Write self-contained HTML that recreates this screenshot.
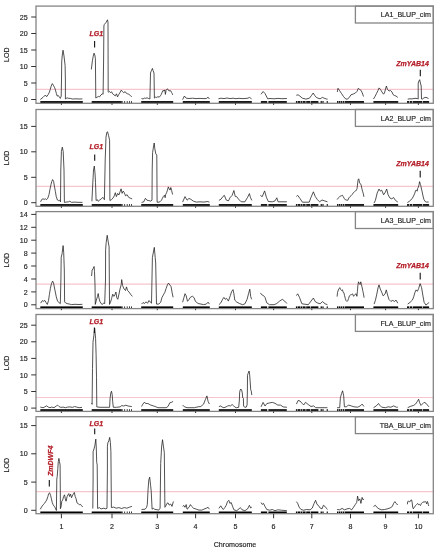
<!DOCTYPE html>
<html><head><meta charset="utf-8"><title>QTL LOD profiles</title>
<style>html,body{margin:0;padding:0;background:#fff;}svg{display:block;}</style>
</head><body>
<svg width="438" height="550" viewBox="0 0 438 550">
<rect width="438" height="550" fill="#fff"/>
<line x1="36.0" y1="89.4" x2="433.3" y2="89.4" stroke="#f6c6ce" stroke-width="1.2"/>
<polyline points="40.3,99.5 43.1,97.3 45.4,95.0 46.6,96.7 48.3,94.4 49.4,92.1 50.3,89.3 51.1,86.4 52.3,83.6 53.4,85.3 54.6,87.6 55.4,89.8 56.3,93.3 57.2,96.1 58.3,95.5 59.5,97.3 60.3,98.4 61.2,96.1 61.5,80.0 61.7,62.0 62.2,56.0 63.0,50.2 64.0,56.0 65.1,65.5 65.4,80.0 65.4,99.0 67.1,97.8 68.8,98.4 70.5,98.4 72.2,99.0 76.0,98.8 79.0,99.0 82.4,98.9" fill="none" stroke="#1a1a1a" stroke-width="0.75" stroke-linejoin="round"/>
<polyline points="91.3,69.5 92.4,60.8 93.2,56.4 94.0,53.2 94.8,55.0 95.4,58.6 95.8,98.0 96.8,97.4 98.4,96.4 99.5,96.9 101.0,94.8 102.4,93.8 103.1,94.3 103.6,60.0 103.9,25.9 104.4,24.3 106.0,22.6 107.5,19.8 108.0,22.5 108.1,60.0 108.2,91.7 108.4,92.2 109.4,91.4 110.5,92.7 111.5,91.7 112.6,93.8 114.0,94.8 115.2,95.9 116.5,93.8 117.5,96.9 118.6,94.8 119.9,92.7 121.3,90.1 122.6,91.7 123.6,92.7 125.2,91.7 126.2,93.2 127.6,93.8 128.9,94.3 130.4,95.6 131.8,96.7" fill="none" stroke="#1a1a1a" stroke-width="0.75" stroke-linejoin="round"/>
<polyline points="141.5,98.5 143.0,99.0 144.4,98.1 145.8,98.3 147.1,97.8 148.5,98.5 149.9,99.0 150.5,73.0 151.2,71.1 151.7,70.2 152.4,68.4 153.1,70.7 154.0,73.0 154.4,98.1 155.4,97.2 156.7,97.4 157.9,96.7 159.2,97.2 160.4,95.8 161.3,94.4 162.2,92.1 163.1,90.3 164.0,91.2 164.8,89.9 165.4,94.4 166.1,90.3 167.2,88.9 168.1,89.4 169.1,91.2 170.0,90.3 170.9,91.0 171.6,92.6 172.2,93.5 172.7,94.9" fill="none" stroke="#1a1a1a" stroke-width="0.75" stroke-linejoin="round"/>
<polyline points="182.6,99.6 184.4,96.0 186.2,98.2 189.0,98.5 192.6,98.2 196.0,98.6 200.0,98.4 203.0,98.6 206.3,98.5 208.1,97.2 209.4,99.0" fill="none" stroke="#1a1a1a" stroke-width="0.75" stroke-linejoin="round"/>
<polyline points="218.4,98.8 221.0,98.2 224.0,98.6 227.0,98.0 230.0,98.6 233.0,98.2 236.0,98.7 239.0,98.3 242.0,98.6 245.0,98.5 248.0,98.2 249.4,97.4 251.5,98.8" fill="none" stroke="#1a1a1a" stroke-width="0.75" stroke-linejoin="round"/>
<polyline points="261.0,94.3 263.1,91.5 265.0,93.5 267.7,98.8 270.0,98.5 274.0,98.8 278.0,98.4 282.0,98.7 286.9,98.5" fill="none" stroke="#1a1a1a" stroke-width="0.75" stroke-linejoin="round"/>
<polyline points="296.3,95.3 298.1,94.8 299.8,96.0 302.4,98.2 305.9,99.1 309.4,98.2 311.4,95.6 313.2,93.0 314.6,95.3 316.3,97.4 318.0,98.2 320.1,98.8 322.4,97.4 324.1,98.2 326.7,99.1 327.6,99.1" fill="none" stroke="#1a1a1a" stroke-width="0.75" stroke-linejoin="round"/>
<polyline points="337.3,92.0 338.0,88.3 339.5,90.5 341.5,93.5 343.5,96.5 345.8,99.1 347.6,99.1 349.5,97.0 351.0,94.8 353.6,93.9 355.4,93.0 357.1,91.3 358.3,88.3 359.7,89.5 361.1,90.4 362.3,93.0 363.5,96.5" fill="none" stroke="#1a1a1a" stroke-width="0.75" stroke-linejoin="round"/>
<polyline points="373.5,99.0 375.0,96.5 376.5,93.5 378.0,90.5 379.1,87.9 380.5,89.5 382.0,92.0 383.5,94.2 384.5,93.0 385.5,89.0 386.4,86.0 387.5,89.5 389.0,91.0 390.5,90.5 392.0,92.0 393.0,94.5 394.5,95.5 396.0,96.0 397.8,97.5" fill="none" stroke="#1a1a1a" stroke-width="0.75" stroke-linejoin="round"/>
<polyline points="407.7,99.1 410.0,98.8 412.0,98.9 415.0,98.3 417.5,98.6 418.2,99.1 418.2,83.0 419.0,80.9 419.7,79.7 420.4,83.0 421.2,86.0 421.5,99.0 422.5,99.0 424.0,97.8 426.0,97.3 428.5,98.5" fill="none" stroke="#1a1a1a" stroke-width="0.75" stroke-linejoin="round"/>
<rect x="40.3" y="101.1" width="42.5" height="2.1" fill="#000"/>
<rect x="91.7" y="101.1" width="30.1" height="2.1" fill="#000"/>
<rect x="122.4" y="101.1" width="0.6" height="2.1" fill="#000"/>
<rect x="124.3" y="101.1" width="0.8" height="2.1" fill="#000"/>
<rect x="126.8" y="101.1" width="0.8" height="2.1" fill="#000"/>
<rect x="129.0" y="101.1" width="0.8" height="2.1" fill="#000"/>
<rect x="131.1" y="101.1" width="0.8" height="2.1" fill="#000"/>
<rect x="141.2" y="101.1" width="32.0" height="2.1" fill="#000"/>
<rect x="182.8" y="101.1" width="27.0" height="2.1" fill="#000"/>
<rect x="218.8" y="101.1" width="33.0" height="2.1" fill="#000"/>
<rect x="260.9" y="101.1" width="6.3" height="2.1" fill="#000"/>
<rect x="268.4" y="101.1" width="18.4" height="2.1" fill="#000"/>
<rect x="295.9" y="101.1" width="1.6" height="2.1" fill="#000"/>
<rect x="298.0" y="101.1" width="2.0" height="2.1" fill="#000"/>
<rect x="300.5" y="101.1" width="2.0" height="2.1" fill="#000"/>
<rect x="303.0" y="101.1" width="2.6" height="2.1" fill="#000"/>
<rect x="306.2" y="101.1" width="4.2" height="2.1" fill="#000"/>
<rect x="311.0" y="101.1" width="7.4" height="2.1" fill="#000"/>
<rect x="320.6" y="101.1" width="1.3" height="2.1" fill="#000"/>
<rect x="322.4" y="101.1" width="1.2" height="2.1" fill="#000"/>
<rect x="326.7" y="101.1" width="1.1" height="2.1" fill="#000"/>
<rect x="337.0" y="101.1" width="1.5" height="2.1" fill="#000"/>
<rect x="339.0" y="101.1" width="1.5" height="2.1" fill="#000"/>
<rect x="341.0" y="101.1" width="1.3" height="2.1" fill="#000"/>
<rect x="342.8" y="101.1" width="1.4" height="2.1" fill="#000"/>
<rect x="344.7" y="101.1" width="19.3" height="2.1" fill="#000"/>
<rect x="373.4" y="101.1" width="24.8" height="2.1" fill="#000"/>
<rect x="407.0" y="101.1" width="2.1" height="2.1" fill="#000"/>
<rect x="409.7" y="101.1" width="2.3" height="2.1" fill="#000"/>
<rect x="412.6" y="101.1" width="9.7" height="2.1" fill="#000"/>
<rect x="422.9" y="101.1" width="6.2" height="2.1" fill="#000"/>
<rect x="36.0" y="6.1" width="397.3" height="97.2" fill="none" stroke="#858585" stroke-width="1.3"/>
<rect x="355.4" y="6.1" width="77.9" height="16.9" fill="none" stroke="#858585" stroke-width="1.3"/>
<text x="430.9" y="17.3" text-anchor="end" font-family="'Liberation Sans', Arial, sans-serif" font-size="7.1" fill="#222" stroke="#222" stroke-width="0.15">LA1_BLUP_cim</text>
<line x1="31.2" y1="99.5" x2="36.0" y2="99.5" stroke="#333" stroke-width="1"/>
<text x="27.6" y="102.1" text-anchor="end" font-family="'Liberation Sans', Arial, sans-serif" font-size="7.1" fill="#222" stroke="#222" stroke-width="0.15">0</text>
<line x1="31.2" y1="83.0" x2="36.0" y2="83.0" stroke="#333" stroke-width="1"/>
<text x="27.6" y="85.6" text-anchor="end" font-family="'Liberation Sans', Arial, sans-serif" font-size="7.1" fill="#222" stroke="#222" stroke-width="0.15">5</text>
<line x1="31.2" y1="66.5" x2="36.0" y2="66.5" stroke="#333" stroke-width="1"/>
<text x="27.6" y="69.1" text-anchor="end" font-family="'Liberation Sans', Arial, sans-serif" font-size="7.1" fill="#222" stroke="#222" stroke-width="0.15">10</text>
<line x1="31.2" y1="50.0" x2="36.0" y2="50.0" stroke="#333" stroke-width="1"/>
<text x="27.6" y="52.6" text-anchor="end" font-family="'Liberation Sans', Arial, sans-serif" font-size="7.1" fill="#222" stroke="#222" stroke-width="0.15">15</text>
<line x1="31.2" y1="33.5" x2="36.0" y2="33.5" stroke="#333" stroke-width="1"/>
<text x="27.6" y="36.1" text-anchor="end" font-family="'Liberation Sans', Arial, sans-serif" font-size="7.1" fill="#222" stroke="#222" stroke-width="0.15">20</text>
<line x1="31.2" y1="17.0" x2="36.0" y2="17.0" stroke="#333" stroke-width="1"/>
<text x="27.6" y="19.6" text-anchor="end" font-family="'Liberation Sans', Arial, sans-serif" font-size="7.1" fill="#222" stroke="#222" stroke-width="0.15">25</text>
<text transform="translate(9.0,54.7) rotate(-90)" text-anchor="middle" font-family="'Liberation Sans', Arial, sans-serif" font-size="7.1" fill="#222" stroke="#222" stroke-width="0.15">LOD</text>
<line x1="61.4" y1="103.3" x2="61.4" y2="104.89999999999999" stroke="#333" stroke-width="1"/>
<line x1="112.0" y1="103.3" x2="112.0" y2="104.89999999999999" stroke="#333" stroke-width="1"/>
<line x1="157.3" y1="103.3" x2="157.3" y2="104.89999999999999" stroke="#333" stroke-width="1"/>
<line x1="195.6" y1="103.3" x2="195.6" y2="104.89999999999999" stroke="#333" stroke-width="1"/>
<line x1="235.5" y1="103.3" x2="235.5" y2="104.89999999999999" stroke="#333" stroke-width="1"/>
<line x1="273.6" y1="103.3" x2="273.6" y2="104.89999999999999" stroke="#333" stroke-width="1"/>
<line x1="311.8" y1="103.3" x2="311.8" y2="104.89999999999999" stroke="#333" stroke-width="1"/>
<line x1="350.5" y1="103.3" x2="350.5" y2="104.89999999999999" stroke="#333" stroke-width="1"/>
<line x1="385.6" y1="103.3" x2="385.6" y2="104.89999999999999" stroke="#333" stroke-width="1"/>
<line x1="418.4" y1="103.3" x2="418.4" y2="104.89999999999999" stroke="#333" stroke-width="1"/>
<text x="89.6" y="36.3" font-family="'Liberation Sans', Arial, sans-serif" font-size="7" font-weight="bold" font-style="italic" fill="#b41e28" stroke="#b41e28" stroke-width="0.25">LG1</text>
<line x1="94.6" y1="41.0" x2="94.6" y2="47.4" stroke="#111" stroke-width="1.1"/>
<text x="396.3" y="65.6" font-family="'Liberation Sans', Arial, sans-serif" font-size="7" font-weight="bold" font-style="italic" fill="#b41e28" stroke="#b41e28" stroke-width="0.25">ZmYAB14</text>
<line x1="420.3" y1="69.7" x2="420.3" y2="76.3" stroke="#111" stroke-width="1.1"/>
<line x1="36.0" y1="186.4" x2="433.3" y2="186.4" stroke="#f6c6ce" stroke-width="1.2"/>
<polyline points="40.6,201.8 41.8,199.4 43.0,198.8 44.2,199.4 45.4,198.8 46.6,199.6 47.8,198.2 49.0,194.6 50.0,189.2 51.0,184.4 51.8,181.4 52.6,179.6 53.6,181.4 54.4,186.2 55.4,191.6 56.2,196.4 57.4,200.0 58.6,200.6 59.6,200.2 60.5,201.8 60.8,170.0 61.4,151.4 62.3,147.2 63.2,151.4 64.0,170.0 64.4,202.4 66.2,202.1 68.6,201.8 69.8,201.2 71.6,202.4 74.0,202.1 78.0,202.3 82.4,202.4" fill="none" stroke="#1a1a1a" stroke-width="0.75" stroke-linejoin="round"/>
<polyline points="91.9,201.3 92.7,185.0 93.5,170.0 94.3,166.1 95.0,173.1 95.5,182.5 96.1,200.5 97.4,199.7 98.2,201.3 99.7,200.0 101.3,198.9 102.8,197.3 103.6,198.4 104.4,199.7 105.2,160.0 106.0,137.2 106.8,132.5 107.5,131.7 108.6,135.6 109.6,140.3 109.9,200.5 111.4,199.7 113.0,198.1 114.3,195.8 115.3,192.7 116.4,196.6 117.7,193.4 118.9,195.0 120.0,191.9 121.1,188.8 122.1,193.4 123.2,191.1 124.3,192.7 125.5,195.8 127.1,194.7 128.6,197.3 130.2,198.1 132.1,198.9" fill="none" stroke="#1a1a1a" stroke-width="0.75" stroke-linejoin="round"/>
<polyline points="141.6,202.4 143.7,201.9 145.4,198.3 146.9,200.2 148.8,200.6 150.7,201.1 152.0,200.2 152.2,170.0 152.6,152.5 153.3,148.1 154.2,143.0 154.8,148.7 155.8,153.8 156.8,155.1 157.1,202.2 159.0,202.2 160.3,201.5 161.5,200.2 162.4,198.3 163.4,196.4 164.5,195.2 165.1,197.7 165.7,194.5 166.6,192.6 167.5,190.1 168.3,186.9 169.2,188.8 170.1,190.1 170.8,187.5 171.7,190.7 172.6,194.5" fill="none" stroke="#1a1a1a" stroke-width="0.75" stroke-linejoin="round"/>
<polyline points="182.6,202.1 185.0,196.6 187.1,200.2 189.0,198.4 190.8,199.3 193.5,201.2 196.3,202.1 200.0,201.8 204.0,202.1 207.2,201.5 209.4,202.1" fill="none" stroke="#1a1a1a" stroke-width="0.75" stroke-linejoin="round"/>
<polyline points="218.9,200.4 221.1,199.1 223.0,196.4 224.4,195.4 226.2,200.0 228.4,200.9 230.3,197.3 232.1,195.4 233.9,190.5 235.2,196.4 236.7,196.7 238.5,199.1 241.2,201.8 244.9,201.8 247.6,197.3 249.4,193.6 250.4,197.3 251.8,200.4" fill="none" stroke="#1a1a1a" stroke-width="0.75" stroke-linejoin="round"/>
<polyline points="260.4,195.4 262.2,196.7 264.6,190.9 266.4,197.3 268.3,201.5 272.3,201.8 275.0,200.9 276.8,197.8 278.1,201.8 282.0,201.8 286.9,201.8" fill="none" stroke="#1a1a1a" stroke-width="0.75" stroke-linejoin="round"/>
<polyline points="296.4,196.4 297.7,195.4 300.0,198.5 302.4,202.2 309.2,202.2 311.0,197.3 313.4,191.8 315.2,196.4 317.4,199.6 319.6,201.8 322.0,200.0 324.7,200.9 327.4,201.8" fill="none" stroke="#1a1a1a" stroke-width="0.75" stroke-linejoin="round"/>
<polyline points="337.1,199.6 338.7,197.6 340.2,196.1 341.4,195.7 342.4,195.3 343.3,196.8 344.5,198.8 345.6,200.0 346.8,200.1 347.8,200.3 348.8,198.0 349.9,196.7 351.1,195.7 352.2,194.5 353.3,192.8 354.3,191.8 355.6,191.0 356.5,189.9 357.1,188.3 357.7,182.9 358.1,179.8 358.7,178.8 359.2,180.5 359.6,182.9 360.6,184.0 361.2,185.2 361.8,188.3 362.6,191.4 363.3,193.7 363.9,196.8" fill="none" stroke="#1a1a1a" stroke-width="0.75" stroke-linejoin="round"/>
<polyline points="374.1,203.0 375.4,200.3 377.2,193.0 379.0,189.0 380.3,191.1 381.7,190.2 383.6,194.8 385.4,192.1 386.7,189.0 388.1,194.8 390.0,198.1 391.8,198.8 393.6,197.5 395.4,200.3 397.8,202.1" fill="none" stroke="#1a1a1a" stroke-width="0.75" stroke-linejoin="round"/>
<polyline points="407.4,202.5 409.1,201.5 410.8,200.1 412.2,198.4 413.6,196.0 414.8,193.2 415.6,190.5 416.5,190.2 417.2,191.2 417.7,188.4 418.4,187.1 419.1,184.3 419.6,181.6 420.3,184.3 420.8,185.7 421.5,189.1 422.2,191.9 423.0,196.0 423.9,199.4 425.2,201.5 426.6,202.1 428.7,202.0" fill="none" stroke="#1a1a1a" stroke-width="0.75" stroke-linejoin="round"/>
<rect x="40.3" y="204.1" width="42.5" height="2.1" fill="#000"/>
<rect x="91.7" y="204.1" width="30.1" height="2.1" fill="#000"/>
<rect x="122.4" y="204.1" width="0.6" height="2.1" fill="#000"/>
<rect x="124.3" y="204.1" width="0.8" height="2.1" fill="#000"/>
<rect x="126.8" y="204.1" width="0.8" height="2.1" fill="#000"/>
<rect x="129.0" y="204.1" width="0.8" height="2.1" fill="#000"/>
<rect x="131.1" y="204.1" width="0.8" height="2.1" fill="#000"/>
<rect x="141.2" y="204.1" width="32.0" height="2.1" fill="#000"/>
<rect x="182.8" y="204.1" width="27.0" height="2.1" fill="#000"/>
<rect x="218.8" y="204.1" width="33.0" height="2.1" fill="#000"/>
<rect x="260.9" y="204.1" width="6.3" height="2.1" fill="#000"/>
<rect x="268.4" y="204.1" width="18.4" height="2.1" fill="#000"/>
<rect x="295.9" y="204.1" width="1.6" height="2.1" fill="#000"/>
<rect x="298.0" y="204.1" width="2.0" height="2.1" fill="#000"/>
<rect x="300.5" y="204.1" width="2.0" height="2.1" fill="#000"/>
<rect x="303.0" y="204.1" width="2.6" height="2.1" fill="#000"/>
<rect x="306.2" y="204.1" width="4.2" height="2.1" fill="#000"/>
<rect x="311.0" y="204.1" width="7.4" height="2.1" fill="#000"/>
<rect x="320.6" y="204.1" width="1.3" height="2.1" fill="#000"/>
<rect x="322.4" y="204.1" width="1.2" height="2.1" fill="#000"/>
<rect x="326.7" y="204.1" width="1.1" height="2.1" fill="#000"/>
<rect x="337.0" y="204.1" width="1.5" height="2.1" fill="#000"/>
<rect x="339.0" y="204.1" width="1.5" height="2.1" fill="#000"/>
<rect x="341.0" y="204.1" width="1.3" height="2.1" fill="#000"/>
<rect x="342.8" y="204.1" width="1.4" height="2.1" fill="#000"/>
<rect x="344.7" y="204.1" width="19.3" height="2.1" fill="#000"/>
<rect x="373.4" y="204.1" width="24.8" height="2.1" fill="#000"/>
<rect x="407.0" y="204.1" width="2.1" height="2.1" fill="#000"/>
<rect x="409.7" y="204.1" width="2.3" height="2.1" fill="#000"/>
<rect x="412.6" y="204.1" width="9.7" height="2.1" fill="#000"/>
<rect x="422.9" y="204.1" width="6.2" height="2.1" fill="#000"/>
<rect x="36.0" y="109.5" width="397.3" height="96.8" fill="none" stroke="#858585" stroke-width="1.3"/>
<rect x="355.4" y="109.5" width="77.9" height="16.9" fill="none" stroke="#858585" stroke-width="1.3"/>
<text x="430.9" y="120.7" text-anchor="end" font-family="'Liberation Sans', Arial, sans-serif" font-size="7.1" fill="#222" stroke="#222" stroke-width="0.15">LA2_BLUP_cim</text>
<line x1="31.2" y1="202.7" x2="36.0" y2="202.7" stroke="#333" stroke-width="1"/>
<text x="27.6" y="205.3" text-anchor="end" font-family="'Liberation Sans', Arial, sans-serif" font-size="7.1" fill="#222" stroke="#222" stroke-width="0.15">0</text>
<line x1="31.2" y1="177.3" x2="36.0" y2="177.3" stroke="#333" stroke-width="1"/>
<text x="27.6" y="179.9" text-anchor="end" font-family="'Liberation Sans', Arial, sans-serif" font-size="7.1" fill="#222" stroke="#222" stroke-width="0.15">5</text>
<line x1="31.2" y1="151.8" x2="36.0" y2="151.8" stroke="#333" stroke-width="1"/>
<text x="27.6" y="154.4" text-anchor="end" font-family="'Liberation Sans', Arial, sans-serif" font-size="7.1" fill="#222" stroke="#222" stroke-width="0.15">10</text>
<line x1="31.2" y1="126.4" x2="36.0" y2="126.4" stroke="#333" stroke-width="1"/>
<text x="27.6" y="129.0" text-anchor="end" font-family="'Liberation Sans', Arial, sans-serif" font-size="7.1" fill="#222" stroke="#222" stroke-width="0.15">15</text>
<text transform="translate(9.0,157.9) rotate(-90)" text-anchor="middle" font-family="'Liberation Sans', Arial, sans-serif" font-size="7.1" fill="#222" stroke="#222" stroke-width="0.15">LOD</text>
<line x1="61.4" y1="206.3" x2="61.4" y2="207.9" stroke="#333" stroke-width="1"/>
<line x1="112.0" y1="206.3" x2="112.0" y2="207.9" stroke="#333" stroke-width="1"/>
<line x1="157.3" y1="206.3" x2="157.3" y2="207.9" stroke="#333" stroke-width="1"/>
<line x1="195.6" y1="206.3" x2="195.6" y2="207.9" stroke="#333" stroke-width="1"/>
<line x1="235.5" y1="206.3" x2="235.5" y2="207.9" stroke="#333" stroke-width="1"/>
<line x1="273.6" y1="206.3" x2="273.6" y2="207.9" stroke="#333" stroke-width="1"/>
<line x1="311.8" y1="206.3" x2="311.8" y2="207.9" stroke="#333" stroke-width="1"/>
<line x1="350.5" y1="206.3" x2="350.5" y2="207.9" stroke="#333" stroke-width="1"/>
<line x1="385.6" y1="206.3" x2="385.6" y2="207.9" stroke="#333" stroke-width="1"/>
<line x1="418.4" y1="206.3" x2="418.4" y2="207.9" stroke="#333" stroke-width="1"/>
<text x="89.6" y="148.9" font-family="'Liberation Sans', Arial, sans-serif" font-size="7" font-weight="bold" font-style="italic" fill="#b41e28" stroke="#b41e28" stroke-width="0.25">LG1</text>
<line x1="94.7" y1="154.4" x2="94.7" y2="160.7" stroke="#111" stroke-width="1.1"/>
<text x="396.3" y="166.2" font-family="'Liberation Sans', Arial, sans-serif" font-size="7" font-weight="bold" font-style="italic" fill="#b41e28" stroke="#b41e28" stroke-width="0.25">ZmYAB14</text>
<line x1="420.2" y1="170.7" x2="420.2" y2="177.4" stroke="#111" stroke-width="1.1"/>
<line x1="36.0" y1="284.1" x2="433.3" y2="284.1" stroke="#f6c6ce" stroke-width="1.2"/>
<polyline points="40.7,303.1 42.3,300.6 43.6,301.3 44.8,300.4 46.0,302.5 47.3,304.4 48.5,300.6 49.4,294.5 50.4,288.3 51.4,283.9 52.6,281.1 53.5,282.7 54.3,287.0 55.3,292.0 56.3,296.9 57.6,301.3 59.0,302.5 60.3,303.7 60.9,280.0 61.2,257.3 62.1,253.6 63.1,245.6 63.7,252.4 64.3,270.0 64.6,301.9 65.8,303.1 67.7,303.7 69.6,304.1 71.4,304.6 75.0,304.3 79.0,304.5 82.4,304.3" fill="none" stroke="#1a1a1a" stroke-width="0.75" stroke-linejoin="round"/>
<polyline points="91.6,276.0 92.1,270.2 93.1,268.7 94.1,266.5 94.5,271.6 95.0,285.0 95.3,304.4 96.4,300.0 97.5,296.4 98.2,293.5 98.9,297.8 99.9,301.5 101.1,303.6 102.5,304.4 103.7,302.9 104.7,303.6 105.5,280.0 105.6,249.8 106.2,242.5 107.2,235.3 108.1,241.1 109.1,246.9 109.5,304.4 110.5,302.2 111.6,298.5 112.7,294.2 113.9,296.4 114.9,294.9 115.9,292.0 116.8,297.8 117.8,299.3 118.8,294.9 120.0,289.1 121.2,284.7 121.7,279.6 122.6,285.5 124.1,289.1 125.5,290.5 126.5,286.9 127.6,290.5 129.0,292.0 130.5,294.2 132.4,296.4" fill="none" stroke="#1a1a1a" stroke-width="0.75" stroke-linejoin="round"/>
<polyline points="141.5,304.1 143.0,302.5 144.5,303.5 146.0,301.8 147.5,303.3 149.0,300.5 150.2,302.0 151.5,303.2 152.4,257.5 153.4,252.0 154.3,247.4 155.2,257.5 155.7,263.0 156.5,304.1 158.8,304.1 160.7,302.2 161.9,297.7 163.4,294.9 164.9,292.2 166.1,288.5 167.4,284.9 168.5,283.1 169.8,284.9 171.1,286.7 172.2,293.1 173.1,297.3" fill="none" stroke="#1a1a1a" stroke-width="0.75" stroke-linejoin="round"/>
<polyline points="182.6,302.2 183.9,297.7 185.0,293.7 186.2,295.8 187.5,301.3 189.0,299.5 190.4,297.3 192.3,296.2 194.1,297.7 195.4,301.3 198.1,303.5 203.6,304.6 206.3,304.1 208.1,302.2 209.4,304.1" fill="none" stroke="#1a1a1a" stroke-width="0.75" stroke-linejoin="round"/>
<polyline points="218.9,304.7 220.8,302.9 222.6,299.3 223.9,297.4 225.2,299.3 226.6,298.4 228.4,301.1 230.3,295.6 231.7,291.4 233.0,289.6 233.9,293.8 234.8,300.2 236.7,302.0 239.4,303.5 242.7,304.7 244.9,303.8 247.1,299.3 248.5,293.8 249.8,289.2 250.7,296.5 251.6,299.3" fill="none" stroke="#1a1a1a" stroke-width="0.75" stroke-linejoin="round"/>
<polyline points="260.4,292.9 261.7,294.7 263.5,295.6 265.0,297.4 266.8,302.9 269.5,304.7 274.1,304.7 276.8,303.5 279.6,301.1 282.3,299.3 284.7,301.1 286.9,303.5" fill="none" stroke="#1a1a1a" stroke-width="0.75" stroke-linejoin="round"/>
<polyline points="296.4,295.6 297.7,293.8 299.5,297.4 301.9,303.8 308.3,304.7 311.0,301.1 313.4,298.0 315.2,301.6 317.4,302.9 320.1,303.8 322.5,301.6 325.1,303.8 327.4,304.7" fill="none" stroke="#1a1a1a" stroke-width="0.75" stroke-linejoin="round"/>
<polyline points="337.1,296.6 337.5,292.7 338.3,290.0 339.0,288.8 339.8,287.6 340.6,289.6 341.4,290.4 342.4,289.8 343.2,292.3 343.9,292.7 344.5,295.4 345.3,298.5 346.0,300.5 347.0,301.5 347.8,300.5 348.6,298.5 349.4,295.8 350.3,295.0 351.5,294.6 352.6,293.9 353.6,296.3 354.3,295.4 355.4,294.2 356.1,293.7 356.9,296.3 357.4,291.5 357.9,285.3 358.5,281.8 359.2,283.4 360.0,284.5 360.8,281.8 361.3,284.2 362.0,286.9 362.7,290.4 363.3,293.1 364.1,297.7" fill="none" stroke="#1a1a1a" stroke-width="0.75" stroke-linejoin="round"/>
<polyline points="374.1,304.1 375.4,300.4 376.8,294.1 378.1,287.7 379.0,284.9 380.3,289.1 381.7,292.2 383.2,295.9 385.0,294.1 386.3,289.9 387.6,295.0 389.0,299.5 390.9,301.4 392.7,300.4 394.5,301.4 396.0,300.1 397.8,303.2" fill="none" stroke="#1a1a1a" stroke-width="0.75" stroke-linejoin="round"/>
<polyline points="407.7,304.1 410.1,302.3 412.4,300.1 413.7,296.8 415.0,292.2 416.1,289.9 417.4,291.3 418.6,288.6 420.1,283.6 421.6,287.7 422.8,295.0 424.1,302.3 425.9,305.0 427.4,304.1 428.9,302.3" fill="none" stroke="#1a1a1a" stroke-width="0.75" stroke-linejoin="round"/>
<rect x="40.3" y="306.4" width="42.5" height="2.1" fill="#000"/>
<rect x="91.7" y="306.4" width="30.1" height="2.1" fill="#000"/>
<rect x="122.4" y="306.4" width="0.6" height="2.1" fill="#000"/>
<rect x="124.3" y="306.4" width="0.8" height="2.1" fill="#000"/>
<rect x="126.8" y="306.4" width="0.8" height="2.1" fill="#000"/>
<rect x="129.0" y="306.4" width="0.8" height="2.1" fill="#000"/>
<rect x="131.1" y="306.4" width="0.8" height="2.1" fill="#000"/>
<rect x="141.2" y="306.4" width="32.0" height="2.1" fill="#000"/>
<rect x="182.8" y="306.4" width="27.0" height="2.1" fill="#000"/>
<rect x="218.8" y="306.4" width="33.0" height="2.1" fill="#000"/>
<rect x="260.9" y="306.4" width="6.3" height="2.1" fill="#000"/>
<rect x="268.4" y="306.4" width="18.4" height="2.1" fill="#000"/>
<rect x="295.9" y="306.4" width="1.6" height="2.1" fill="#000"/>
<rect x="298.0" y="306.4" width="2.0" height="2.1" fill="#000"/>
<rect x="300.5" y="306.4" width="2.0" height="2.1" fill="#000"/>
<rect x="303.0" y="306.4" width="2.6" height="2.1" fill="#000"/>
<rect x="306.2" y="306.4" width="4.2" height="2.1" fill="#000"/>
<rect x="311.0" y="306.4" width="7.4" height="2.1" fill="#000"/>
<rect x="320.6" y="306.4" width="1.3" height="2.1" fill="#000"/>
<rect x="322.4" y="306.4" width="1.2" height="2.1" fill="#000"/>
<rect x="326.7" y="306.4" width="1.1" height="2.1" fill="#000"/>
<rect x="337.0" y="306.4" width="1.5" height="2.1" fill="#000"/>
<rect x="339.0" y="306.4" width="1.5" height="2.1" fill="#000"/>
<rect x="341.0" y="306.4" width="1.3" height="2.1" fill="#000"/>
<rect x="342.8" y="306.4" width="1.4" height="2.1" fill="#000"/>
<rect x="344.7" y="306.4" width="19.3" height="2.1" fill="#000"/>
<rect x="373.4" y="306.4" width="24.8" height="2.1" fill="#000"/>
<rect x="407.0" y="306.4" width="2.1" height="2.1" fill="#000"/>
<rect x="409.7" y="306.4" width="2.3" height="2.1" fill="#000"/>
<rect x="412.6" y="306.4" width="9.7" height="2.1" fill="#000"/>
<rect x="422.9" y="306.4" width="6.2" height="2.1" fill="#000"/>
<rect x="36.0" y="211.6" width="397.3" height="97.0" fill="none" stroke="#858585" stroke-width="1.3"/>
<rect x="355.4" y="211.6" width="77.9" height="16.9" fill="none" stroke="#858585" stroke-width="1.3"/>
<text x="430.9" y="222.8" text-anchor="end" font-family="'Liberation Sans', Arial, sans-serif" font-size="7.1" fill="#222" stroke="#222" stroke-width="0.15">LA3_BLUP_cim</text>
<line x1="31.2" y1="304.8" x2="36.0" y2="304.8" stroke="#333" stroke-width="1"/>
<text x="27.6" y="307.4" text-anchor="end" font-family="'Liberation Sans', Arial, sans-serif" font-size="7.1" fill="#222" stroke="#222" stroke-width="0.15">0</text>
<line x1="31.2" y1="291.9" x2="36.0" y2="291.9" stroke="#333" stroke-width="1"/>
<text x="27.6" y="294.5" text-anchor="end" font-family="'Liberation Sans', Arial, sans-serif" font-size="7.1" fill="#222" stroke="#222" stroke-width="0.15">2</text>
<line x1="31.2" y1="279.0" x2="36.0" y2="279.0" stroke="#333" stroke-width="1"/>
<text x="27.6" y="281.6" text-anchor="end" font-family="'Liberation Sans', Arial, sans-serif" font-size="7.1" fill="#222" stroke="#222" stroke-width="0.15">4</text>
<line x1="31.2" y1="266.0" x2="36.0" y2="266.0" stroke="#333" stroke-width="1"/>
<text x="27.6" y="268.6" text-anchor="end" font-family="'Liberation Sans', Arial, sans-serif" font-size="7.1" fill="#222" stroke="#222" stroke-width="0.15">6</text>
<line x1="31.2" y1="253.1" x2="36.0" y2="253.1" stroke="#333" stroke-width="1"/>
<text x="27.6" y="255.7" text-anchor="end" font-family="'Liberation Sans', Arial, sans-serif" font-size="7.1" fill="#222" stroke="#222" stroke-width="0.15">8</text>
<line x1="31.2" y1="240.2" x2="36.0" y2="240.2" stroke="#333" stroke-width="1"/>
<text x="27.6" y="242.8" text-anchor="end" font-family="'Liberation Sans', Arial, sans-serif" font-size="7.1" fill="#222" stroke="#222" stroke-width="0.15">10</text>
<line x1="31.2" y1="227.3" x2="36.0" y2="227.3" stroke="#333" stroke-width="1"/>
<text x="27.6" y="229.9" text-anchor="end" font-family="'Liberation Sans', Arial, sans-serif" font-size="7.1" fill="#222" stroke="#222" stroke-width="0.15">12</text>
<line x1="31.2" y1="214.4" x2="36.0" y2="214.4" stroke="#333" stroke-width="1"/>
<text x="27.6" y="217.0" text-anchor="end" font-family="'Liberation Sans', Arial, sans-serif" font-size="7.1" fill="#222" stroke="#222" stroke-width="0.15">14</text>
<text transform="translate(9.0,260.1) rotate(-90)" text-anchor="middle" font-family="'Liberation Sans', Arial, sans-serif" font-size="7.1" fill="#222" stroke="#222" stroke-width="0.15">LOD</text>
<line x1="61.4" y1="308.6" x2="61.4" y2="310.20000000000005" stroke="#333" stroke-width="1"/>
<line x1="112.0" y1="308.6" x2="112.0" y2="310.20000000000005" stroke="#333" stroke-width="1"/>
<line x1="157.3" y1="308.6" x2="157.3" y2="310.20000000000005" stroke="#333" stroke-width="1"/>
<line x1="195.6" y1="308.6" x2="195.6" y2="310.20000000000005" stroke="#333" stroke-width="1"/>
<line x1="235.5" y1="308.6" x2="235.5" y2="310.20000000000005" stroke="#333" stroke-width="1"/>
<line x1="273.6" y1="308.6" x2="273.6" y2="310.20000000000005" stroke="#333" stroke-width="1"/>
<line x1="311.8" y1="308.6" x2="311.8" y2="310.20000000000005" stroke="#333" stroke-width="1"/>
<line x1="350.5" y1="308.6" x2="350.5" y2="310.20000000000005" stroke="#333" stroke-width="1"/>
<line x1="385.6" y1="308.6" x2="385.6" y2="310.20000000000005" stroke="#333" stroke-width="1"/>
<line x1="418.4" y1="308.6" x2="418.4" y2="310.20000000000005" stroke="#333" stroke-width="1"/>
<text x="396.3" y="268.2" font-family="'Liberation Sans', Arial, sans-serif" font-size="7" font-weight="bold" font-style="italic" fill="#b41e28" stroke="#b41e28" stroke-width="0.25">ZmYAB14</text>
<line x1="420.2" y1="272.7" x2="420.2" y2="279.4" stroke="#111" stroke-width="1.1"/>
<line x1="36.0" y1="397.5" x2="433.3" y2="397.5" stroke="#f6c6ce" stroke-width="1.2"/>
<polyline points="40.3,407.1 43.1,407.7 44.8,406.9 46.6,405.8 48.3,407.1 50.0,407.7 51.7,407.1 54.0,407.7 56.3,406.0 57.6,405.1 59.1,406.6 60.8,407.4 63.1,407.1 65.4,407.7 67.7,407.1 70.0,406.9 72.2,407.4 74.5,406.6 76.8,407.1 79.1,407.7 82.0,407.4" fill="none" stroke="#1a1a1a" stroke-width="0.75" stroke-linejoin="round"/>
<polyline points="91.6,403.0 92.1,404.3 92.5,368.4 93.0,342.2 93.9,335.2 94.4,330.0 94.7,328.2 95.6,338.7 96.1,354.5 96.5,377.2 96.8,406.9 100.0,407.3 105.0,407.3 109.6,407.3 110.1,398.2 110.8,392.9 111.5,391.2 112.2,394.7 112.7,401.7 113.3,407.3 116.6,407.3 120.1,406.9 121.8,405.5 123.6,406.0 125.9,405.2 128.0,406.0 131.8,406.6" fill="none" stroke="#1a1a1a" stroke-width="0.75" stroke-linejoin="round"/>
<polyline points="141.5,406.5 142.9,404.1 144.2,402.3 146.0,403.5 147.9,403.5 150.6,405.0 153.4,405.9 155.2,406.5 157.9,407.7 166.1,407.7 168.0,406.5 169.8,402.8 171.6,402.3 173.1,401.4" fill="none" stroke="#1a1a1a" stroke-width="0.75" stroke-linejoin="round"/>
<polyline points="182.6,405.0 184.4,406.8 187.1,407.7 194.4,407.7 198.1,406.8 200.8,406.5 203.6,404.1 205.4,399.5 206.9,395.9 208.1,401.4 209.4,404.1" fill="none" stroke="#1a1a1a" stroke-width="0.75" stroke-linejoin="round"/>
<polyline points="218.9,406.6 220.6,406.0 222.2,407.1 223.9,407.7 226.1,406.9 227.7,406.0 229.3,405.5 230.4,406.2 232.1,404.4 233.5,405.8 234.8,407.1 236.5,407.7 238.7,407.3 239.4,400.0 239.6,392.9 240.1,390.1 240.8,389.0 241.6,390.1 242.3,392.9 242.7,397.8 243.4,398.4 243.6,406.0 244.7,407.3 246.3,407.1 247.1,404.9 247.4,390.0 247.5,375.3 248.2,373.2 249.1,371.0 249.6,374.2 250.2,381.9 250.7,389.6 251.3,391.2 251.8,395.1" fill="none" stroke="#1a1a1a" stroke-width="0.75" stroke-linejoin="round"/>
<polyline points="261.0,406.9 263.1,402.4 265.0,406.0 266.8,403.6 269.5,402.9 272.3,402.4 275.0,403.3 277.8,405.1 280.5,405.1 283.2,406.9 286.9,407.3" fill="none" stroke="#1a1a1a" stroke-width="0.75" stroke-linejoin="round"/>
<polyline points="296.4,404.1 298.2,400.4 300.0,401.0 301.9,403.2 303.7,405.0 305.5,402.3 308.3,404.6 311.0,406.5 313.7,405.9 315.6,407.7 327.4,407.7" fill="none" stroke="#1a1a1a" stroke-width="0.75" stroke-linejoin="round"/>
<polyline points="337.1,407.7 339.7,407.7 340.4,397.7 341.5,393.7 342.6,390.8 343.7,395.9 344.4,406.8 346.6,406.8 348.4,405.0 351.2,405.9 353.9,406.8 357.6,407.2 360.3,405.9 362.1,404.1 364.0,406.5" fill="none" stroke="#1a1a1a" stroke-width="0.75" stroke-linejoin="round"/>
<polyline points="373.5,407.7 376.3,405.9 378.5,403.5 379.9,405.4 381.7,407.2 385.4,407.7 388.1,406.8 390.9,407.2 393.6,405.9 396.4,407.2 397.8,407.2" fill="none" stroke="#1a1a1a" stroke-width="0.75" stroke-linejoin="round"/>
<polyline points="407.7,407.7 410.1,406.5 411.9,405.9 413.7,405.4 415.5,404.1 417.4,401.4 418.6,399.2 419.7,402.8 421.0,405.4 422.3,404.1 424.1,402.3 425.9,403.2 427.4,405.0 428.9,406.8" fill="none" stroke="#1a1a1a" stroke-width="0.75" stroke-linejoin="round"/>
<rect x="40.3" y="409.2" width="42.5" height="2.1" fill="#000"/>
<rect x="91.7" y="409.2" width="30.1" height="2.1" fill="#000"/>
<rect x="122.4" y="409.2" width="0.6" height="2.1" fill="#000"/>
<rect x="124.3" y="409.2" width="0.8" height="2.1" fill="#000"/>
<rect x="126.8" y="409.2" width="0.8" height="2.1" fill="#000"/>
<rect x="129.0" y="409.2" width="0.8" height="2.1" fill="#000"/>
<rect x="131.1" y="409.2" width="0.8" height="2.1" fill="#000"/>
<rect x="141.2" y="409.2" width="32.0" height="2.1" fill="#000"/>
<rect x="182.8" y="409.2" width="27.0" height="2.1" fill="#000"/>
<rect x="218.8" y="409.2" width="33.0" height="2.1" fill="#000"/>
<rect x="260.9" y="409.2" width="6.3" height="2.1" fill="#000"/>
<rect x="268.4" y="409.2" width="18.4" height="2.1" fill="#000"/>
<rect x="295.9" y="409.2" width="1.6" height="2.1" fill="#000"/>
<rect x="298.0" y="409.2" width="2.0" height="2.1" fill="#000"/>
<rect x="300.5" y="409.2" width="2.0" height="2.1" fill="#000"/>
<rect x="303.0" y="409.2" width="2.6" height="2.1" fill="#000"/>
<rect x="306.2" y="409.2" width="4.2" height="2.1" fill="#000"/>
<rect x="311.0" y="409.2" width="7.4" height="2.1" fill="#000"/>
<rect x="320.6" y="409.2" width="1.3" height="2.1" fill="#000"/>
<rect x="322.4" y="409.2" width="1.2" height="2.1" fill="#000"/>
<rect x="326.7" y="409.2" width="1.1" height="2.1" fill="#000"/>
<rect x="337.0" y="409.2" width="1.5" height="2.1" fill="#000"/>
<rect x="339.0" y="409.2" width="1.5" height="2.1" fill="#000"/>
<rect x="341.0" y="409.2" width="1.3" height="2.1" fill="#000"/>
<rect x="342.8" y="409.2" width="1.4" height="2.1" fill="#000"/>
<rect x="344.7" y="409.2" width="19.3" height="2.1" fill="#000"/>
<rect x="373.4" y="409.2" width="24.8" height="2.1" fill="#000"/>
<rect x="407.0" y="409.2" width="2.1" height="2.1" fill="#000"/>
<rect x="409.7" y="409.2" width="2.3" height="2.1" fill="#000"/>
<rect x="412.6" y="409.2" width="9.7" height="2.1" fill="#000"/>
<rect x="422.9" y="409.2" width="6.2" height="2.1" fill="#000"/>
<rect x="36.0" y="314.5" width="397.3" height="96.9" fill="none" stroke="#858585" stroke-width="1.3"/>
<rect x="355.4" y="314.5" width="77.9" height="16.9" fill="none" stroke="#858585" stroke-width="1.3"/>
<text x="430.9" y="325.7" text-anchor="end" font-family="'Liberation Sans', Arial, sans-serif" font-size="7.1" fill="#222" stroke="#222" stroke-width="0.15">FLA_BLUP_cim</text>
<line x1="31.2" y1="408.1" x2="36.0" y2="408.1" stroke="#333" stroke-width="1"/>
<text x="27.6" y="410.7" text-anchor="end" font-family="'Liberation Sans', Arial, sans-serif" font-size="7.1" fill="#222" stroke="#222" stroke-width="0.15">0</text>
<line x1="31.2" y1="391.5" x2="36.0" y2="391.5" stroke="#333" stroke-width="1"/>
<text x="27.6" y="394.1" text-anchor="end" font-family="'Liberation Sans', Arial, sans-serif" font-size="7.1" fill="#222" stroke="#222" stroke-width="0.15">5</text>
<line x1="31.2" y1="374.9" x2="36.0" y2="374.9" stroke="#333" stroke-width="1"/>
<text x="27.6" y="377.5" text-anchor="end" font-family="'Liberation Sans', Arial, sans-serif" font-size="7.1" fill="#222" stroke="#222" stroke-width="0.15">10</text>
<line x1="31.2" y1="358.4" x2="36.0" y2="358.4" stroke="#333" stroke-width="1"/>
<text x="27.6" y="361.0" text-anchor="end" font-family="'Liberation Sans', Arial, sans-serif" font-size="7.1" fill="#222" stroke="#222" stroke-width="0.15">15</text>
<line x1="31.2" y1="341.8" x2="36.0" y2="341.8" stroke="#333" stroke-width="1"/>
<text x="27.6" y="344.4" text-anchor="end" font-family="'Liberation Sans', Arial, sans-serif" font-size="7.1" fill="#222" stroke="#222" stroke-width="0.15">20</text>
<line x1="31.2" y1="325.2" x2="36.0" y2="325.2" stroke="#333" stroke-width="1"/>
<text x="27.6" y="327.8" text-anchor="end" font-family="'Liberation Sans', Arial, sans-serif" font-size="7.1" fill="#222" stroke="#222" stroke-width="0.15">25</text>
<text transform="translate(9.0,362.9) rotate(-90)" text-anchor="middle" font-family="'Liberation Sans', Arial, sans-serif" font-size="7.1" fill="#222" stroke="#222" stroke-width="0.15">LOD</text>
<line x1="61.4" y1="411.4" x2="61.4" y2="413.0" stroke="#333" stroke-width="1"/>
<line x1="112.0" y1="411.4" x2="112.0" y2="413.0" stroke="#333" stroke-width="1"/>
<line x1="157.3" y1="411.4" x2="157.3" y2="413.0" stroke="#333" stroke-width="1"/>
<line x1="195.6" y1="411.4" x2="195.6" y2="413.0" stroke="#333" stroke-width="1"/>
<line x1="235.5" y1="411.4" x2="235.5" y2="413.0" stroke="#333" stroke-width="1"/>
<line x1="273.6" y1="411.4" x2="273.6" y2="413.0" stroke="#333" stroke-width="1"/>
<line x1="311.8" y1="411.4" x2="311.8" y2="413.0" stroke="#333" stroke-width="1"/>
<line x1="350.5" y1="411.4" x2="350.5" y2="413.0" stroke="#333" stroke-width="1"/>
<line x1="385.6" y1="411.4" x2="385.6" y2="413.0" stroke="#333" stroke-width="1"/>
<line x1="418.4" y1="411.4" x2="418.4" y2="413.0" stroke="#333" stroke-width="1"/>
<text x="89.6" y="323.8" font-family="'Liberation Sans', Arial, sans-serif" font-size="7" font-weight="bold" font-style="italic" fill="#b41e28" stroke="#b41e28" stroke-width="0.25">LG1</text>
<line x1="94.4" y1="327.6" x2="94.4" y2="333.0" stroke="#111" stroke-width="1.1"/>
<line x1="36.0" y1="491.6" x2="433.3" y2="491.6" stroke="#f6c6ce" stroke-width="1.2"/>
<polyline points="40.3,509.3 41.5,507.0 43.2,504.7 44.4,503.5 45.6,501.7 46.7,500.0 47.9,496.5 48.7,493.6 49.6,492.8 50.6,495.3 51.4,498.8 52.2,502.3 53.1,504.7 54.3,506.4 55.4,508.1 56.4,510.5 56.6,495.0 56.8,479.1 57.2,476.7 57.8,468.6 58.3,461.6 58.9,458.4 59.5,461.6 60.1,465.1 60.3,490.0 60.4,508.7 61.0,507.0 61.8,501.2 62.7,500.0 63.6,496.5 64.5,494.8 65.3,498.8 66.1,501.2 67.1,496.5 68.0,494.8 68.8,493.6 69.6,496.5 70.6,494.2 71.5,497.7 72.3,495.9 73.5,493.6 74.3,492.4 75.2,496.5 76.1,498.8 77.0,502.9 77.8,503.5 78.7,504.1 79.6,504.7 80.6,504.4 81.6,505.8 82.8,507.0" fill="none" stroke="#1a1a1a" stroke-width="0.75" stroke-linejoin="round"/>
<polyline points="92.8,508.5 93.1,480.0 93.1,451.6 94.0,448.9 94.9,445.4 95.8,439.1 96.3,448.0 96.7,462.3 97.2,464.9 97.6,508.5 99.3,507.6 101.1,508.9 103.8,508.2 105.9,508.9 107.0,508.2 107.4,470.0 107.4,446.2 107.9,442.7 108.8,440.9 109.7,437.4 110.4,442.7 110.9,451.6 111.4,507.6 113.6,507.1 116.2,508.2 118.9,507.6 121.6,508.5 124.3,507.6 126.9,508.2 129.6,507.1 131.9,506.4" fill="none" stroke="#1a1a1a" stroke-width="0.75" stroke-linejoin="round"/>
<polyline points="141.5,509.5 145.1,509.2 146.6,507.3 147.3,504.6 148.1,489.1 148.8,479.9 149.7,477.2 150.6,485.4 151.2,490.9 152.1,509.2 153.4,508.2 154.3,509.2 158.8,510.1 160.1,508.2 160.7,463.5 161.6,447.0 162.5,439.7 163.4,446.1 164.3,452.5 164.9,507.3 165.6,506.4 166.7,503.7 168.0,502.8 169.2,505.1 170.7,504.0 172.0,506.4 173.4,501.5" fill="none" stroke="#1a1a1a" stroke-width="0.75" stroke-linejoin="round"/>
<polyline points="182.6,506.4 183.9,505.5 185.0,507.3 186.2,504.6 187.1,509.2 189.0,507.3 190.4,504.6 191.7,506.4 193.5,508.2 196.3,509.2 199.0,510.1 201.8,510.1 203.9,509.2 206.3,508.2 208.1,507.3 209.4,509.2" fill="none" stroke="#1a1a1a" stroke-width="0.75" stroke-linejoin="round"/>
<polyline points="218.9,508.4 220.8,505.8 222.0,508.0 223.3,509.5 224.8,507.6 226.2,505.3 227.5,501.6 228.8,500.3 229.9,503.4 231.2,502.5 232.5,506.2 233.9,509.8 236.7,510.7 239.0,508.9 240.3,507.6 242.1,509.8 244.9,510.7 247.6,508.9 249.4,505.3 250.7,508.0 251.8,507.1" fill="none" stroke="#1a1a1a" stroke-width="0.75" stroke-linejoin="round"/>
<polyline points="261.0,502.5 262.2,504.4 263.5,503.4 265.0,506.5 266.8,509.5 269.5,510.2 272.3,509.5 275.0,510.7 277.8,509.8 281.4,510.2 286.9,510.7" fill="none" stroke="#1a1a1a" stroke-width="0.75" stroke-linejoin="round"/>
<polyline points="296.4,501.6 297.7,503.4 299.1,507.1 301.0,509.5 303.7,510.2 306.4,509.5 310.1,509.8 312.3,508.0 314.1,503.4 315.6,500.3 317.0,504.4 318.3,505.3 320.1,508.0 322.0,508.9 323.4,505.3 325.1,506.5 326.5,508.4 327.4,509.5" fill="none" stroke="#1a1a1a" stroke-width="0.75" stroke-linejoin="round"/>
<polyline points="337.1,509.5 339.7,509.8 342.1,508.4 344.4,509.8 347.0,508.9 349.4,508.4 351.7,509.8 353.6,507.1 355.4,504.4 356.7,502.5 357.6,496.1 358.5,500.7 359.8,498.9 360.9,503.4 362.1,497.4 363.1,499.8 364.0,498.9" fill="none" stroke="#1a1a1a" stroke-width="0.75" stroke-linejoin="round"/>
<polyline points="373.5,506.5 375.4,505.3 377.2,507.6 379.0,508.9 381.7,509.8 384.5,509.5 387.2,508.9 390.0,508.0 392.3,506.5 393.6,503.4 394.9,501.6 396.0,503.4 396.7,504.0 397.8,504.7" fill="none" stroke="#1a1a1a" stroke-width="0.75" stroke-linejoin="round"/>
<polyline points="407.4,504.3 407.8,501.4 408.6,501.0 409.4,501.8 410.3,501.4 411.1,499.8 411.7,500.2 412.2,502.7 412.7,507.2 413.3,508.8 414.4,507.2 415.6,505.5 416.8,504.3 417.7,503.5 418.5,504.7 419.3,504.3 420.4,505.5 421.4,503.5 422.2,502.7 423.0,501.8 424.0,502.3 425.1,501.4 426.1,502.3 426.7,503.9 427.3,501.4 427.9,502.7 428.3,504.7 428.8,506.0" fill="none" stroke="#1a1a1a" stroke-width="0.75" stroke-linejoin="round"/>
<rect x="40.3" y="511.5" width="42.5" height="2.1" fill="#000"/>
<rect x="91.7" y="511.5" width="30.1" height="2.1" fill="#000"/>
<rect x="122.4" y="511.5" width="0.6" height="2.1" fill="#000"/>
<rect x="124.3" y="511.5" width="0.8" height="2.1" fill="#000"/>
<rect x="126.8" y="511.5" width="0.8" height="2.1" fill="#000"/>
<rect x="129.0" y="511.5" width="0.8" height="2.1" fill="#000"/>
<rect x="131.1" y="511.5" width="0.8" height="2.1" fill="#000"/>
<rect x="141.2" y="511.5" width="32.0" height="2.1" fill="#000"/>
<rect x="182.8" y="511.5" width="27.0" height="2.1" fill="#000"/>
<rect x="218.8" y="511.5" width="33.0" height="2.1" fill="#000"/>
<rect x="260.9" y="511.5" width="6.3" height="2.1" fill="#000"/>
<rect x="268.4" y="511.5" width="18.4" height="2.1" fill="#000"/>
<rect x="295.9" y="511.5" width="1.6" height="2.1" fill="#000"/>
<rect x="298.0" y="511.5" width="2.0" height="2.1" fill="#000"/>
<rect x="300.5" y="511.5" width="2.0" height="2.1" fill="#000"/>
<rect x="303.0" y="511.5" width="2.6" height="2.1" fill="#000"/>
<rect x="306.2" y="511.5" width="4.2" height="2.1" fill="#000"/>
<rect x="311.0" y="511.5" width="7.4" height="2.1" fill="#000"/>
<rect x="320.6" y="511.5" width="1.3" height="2.1" fill="#000"/>
<rect x="322.4" y="511.5" width="1.2" height="2.1" fill="#000"/>
<rect x="326.7" y="511.5" width="1.1" height="2.1" fill="#000"/>
<rect x="337.0" y="511.5" width="1.5" height="2.1" fill="#000"/>
<rect x="339.0" y="511.5" width="1.5" height="2.1" fill="#000"/>
<rect x="341.0" y="511.5" width="1.3" height="2.1" fill="#000"/>
<rect x="342.8" y="511.5" width="1.4" height="2.1" fill="#000"/>
<rect x="344.7" y="511.5" width="19.3" height="2.1" fill="#000"/>
<rect x="373.4" y="511.5" width="24.8" height="2.1" fill="#000"/>
<rect x="407.0" y="511.5" width="2.1" height="2.1" fill="#000"/>
<rect x="409.7" y="511.5" width="2.3" height="2.1" fill="#000"/>
<rect x="412.6" y="511.5" width="9.7" height="2.1" fill="#000"/>
<rect x="422.9" y="511.5" width="6.2" height="2.1" fill="#000"/>
<rect x="36.0" y="416.7" width="397.3" height="97.0" fill="none" stroke="#858585" stroke-width="1.3"/>
<rect x="355.4" y="416.7" width="77.9" height="16.9" fill="none" stroke="#858585" stroke-width="1.3"/>
<text x="430.9" y="427.9" text-anchor="end" font-family="'Liberation Sans', Arial, sans-serif" font-size="7.1" fill="#222" stroke="#222" stroke-width="0.15">TBA_BLUP_cim</text>
<line x1="31.2" y1="510.3" x2="36.0" y2="510.3" stroke="#333" stroke-width="1"/>
<text x="27.6" y="512.9" text-anchor="end" font-family="'Liberation Sans', Arial, sans-serif" font-size="7.1" fill="#222" stroke="#222" stroke-width="0.15">0</text>
<line x1="31.2" y1="482.1" x2="36.0" y2="482.1" stroke="#333" stroke-width="1"/>
<text x="27.6" y="484.7" text-anchor="end" font-family="'Liberation Sans', Arial, sans-serif" font-size="7.1" fill="#222" stroke="#222" stroke-width="0.15">5</text>
<line x1="31.2" y1="453.8" x2="36.0" y2="453.8" stroke="#333" stroke-width="1"/>
<text x="27.6" y="456.4" text-anchor="end" font-family="'Liberation Sans', Arial, sans-serif" font-size="7.1" fill="#222" stroke="#222" stroke-width="0.15">10</text>
<line x1="31.2" y1="425.6" x2="36.0" y2="425.6" stroke="#333" stroke-width="1"/>
<text x="27.6" y="428.2" text-anchor="end" font-family="'Liberation Sans', Arial, sans-serif" font-size="7.1" fill="#222" stroke="#222" stroke-width="0.15">15</text>
<text transform="translate(9.0,465.2) rotate(-90)" text-anchor="middle" font-family="'Liberation Sans', Arial, sans-serif" font-size="7.1" fill="#222" stroke="#222" stroke-width="0.15">LOD</text>
<line x1="61.4" y1="513.7" x2="61.4" y2="518.3000000000001" stroke="#333" stroke-width="1"/>
<line x1="112.0" y1="513.7" x2="112.0" y2="518.3000000000001" stroke="#333" stroke-width="1"/>
<line x1="157.3" y1="513.7" x2="157.3" y2="518.3000000000001" stroke="#333" stroke-width="1"/>
<line x1="195.6" y1="513.7" x2="195.6" y2="518.3000000000001" stroke="#333" stroke-width="1"/>
<line x1="235.5" y1="513.7" x2="235.5" y2="518.3000000000001" stroke="#333" stroke-width="1"/>
<line x1="273.6" y1="513.7" x2="273.6" y2="518.3000000000001" stroke="#333" stroke-width="1"/>
<line x1="311.8" y1="513.7" x2="311.8" y2="518.3000000000001" stroke="#333" stroke-width="1"/>
<line x1="350.5" y1="513.7" x2="350.5" y2="518.3000000000001" stroke="#333" stroke-width="1"/>
<line x1="385.6" y1="513.7" x2="385.6" y2="518.3000000000001" stroke="#333" stroke-width="1"/>
<line x1="418.4" y1="513.7" x2="418.4" y2="518.3000000000001" stroke="#333" stroke-width="1"/>
<text x="89.6" y="425.6" font-family="'Liberation Sans', Arial, sans-serif" font-size="7" font-weight="bold" font-style="italic" fill="#b41e28" stroke="#b41e28" stroke-width="0.25">LG1</text>
<line x1="94.7" y1="428.4" x2="94.7" y2="434.2" stroke="#111" stroke-width="1.1"/>
<text transform="translate(52.5,460.8) rotate(-90)" text-anchor="middle" font-family="'Liberation Sans', Arial, sans-serif" font-size="7" font-weight="bold" font-style="italic" fill="#b41e28" stroke="#b41e28" stroke-width="0.25">ZmDWF4</text>
<line x1="49.3" y1="480.0" x2="49.3" y2="486.5" stroke="#111" stroke-width="1.1"/>
<text x="61.4" y="529.0" text-anchor="middle" font-family="'Liberation Sans', Arial, sans-serif" font-size="7.1" fill="#222" stroke="#222" stroke-width="0.15">1</text>
<text x="112.0" y="529.0" text-anchor="middle" font-family="'Liberation Sans', Arial, sans-serif" font-size="7.1" fill="#222" stroke="#222" stroke-width="0.15">2</text>
<text x="157.3" y="529.0" text-anchor="middle" font-family="'Liberation Sans', Arial, sans-serif" font-size="7.1" fill="#222" stroke="#222" stroke-width="0.15">3</text>
<text x="195.6" y="529.0" text-anchor="middle" font-family="'Liberation Sans', Arial, sans-serif" font-size="7.1" fill="#222" stroke="#222" stroke-width="0.15">4</text>
<text x="235.5" y="529.0" text-anchor="middle" font-family="'Liberation Sans', Arial, sans-serif" font-size="7.1" fill="#222" stroke="#222" stroke-width="0.15">5</text>
<text x="273.6" y="529.0" text-anchor="middle" font-family="'Liberation Sans', Arial, sans-serif" font-size="7.1" fill="#222" stroke="#222" stroke-width="0.15">6</text>
<text x="311.8" y="529.0" text-anchor="middle" font-family="'Liberation Sans', Arial, sans-serif" font-size="7.1" fill="#222" stroke="#222" stroke-width="0.15">7</text>
<text x="350.5" y="529.0" text-anchor="middle" font-family="'Liberation Sans', Arial, sans-serif" font-size="7.1" fill="#222" stroke="#222" stroke-width="0.15">8</text>
<text x="385.6" y="529.0" text-anchor="middle" font-family="'Liberation Sans', Arial, sans-serif" font-size="7.1" fill="#222" stroke="#222" stroke-width="0.15">9</text>
<text x="418.4" y="529.0" text-anchor="middle" font-family="'Liberation Sans', Arial, sans-serif" font-size="7.1" fill="#222" stroke="#222" stroke-width="0.15">10</text>
<text x="235" y="546.6" text-anchor="middle" font-family="'Liberation Sans', Arial, sans-serif" font-size="7.1" fill="#222" stroke="#222" stroke-width="0.15">Chromosome</text>
</svg>
</body></html>
